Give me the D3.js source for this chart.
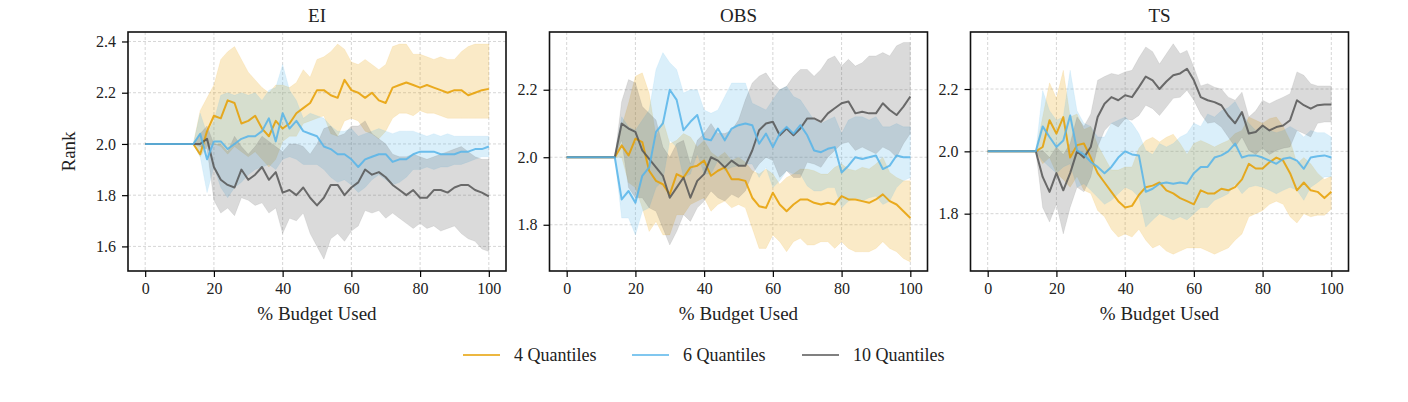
<!doctype html>
<html>

<head>
    <meta charset="utf-8">
    <title>Rank vs % budget used</title>
    <style>
        body {
            margin: 0;
            background: #ffffff;
            font-family: 'Liberation Serif', 'Times New Roman', serif;
        }

        .tick text {
            font-family: 'Liberation Serif', 'Times New Roman', serif;
            font-size: 16px;
            fill: #222222;
        }

        .tick line {
            stroke: #000000;
            stroke-width: 1.2;
        }

        text {
            fill: #222222;
        }
    </style>
</head>

<body>
    <div id="chart"></div>

    <script src="https://cdnjs.cloudflare.com/ajax/libs/d3/7.8.5/d3.min.js"></script>

    <script>
        // x positions (% budget used) shared by every series
        var budget = [0, 14, 16, 18, 20, 22, 24, 26, 28, 30, 32, 34, 36, 38, 40, 42, 44, 46, 48, 50, 52, 54, 56, 58, 60, 62, 64, 66, 68, 70, 72, 74, 76, 78, 80, 82, 84, 86, 88, 90, 92, 94, 96, 98, 100];

        var seriesNames = ["4 Quantiles", "6 Quantiles", "10 Quantiles"];
        var panelTitles = ["EI", "OBS", "TS"];
        var xTicks = [0, 20, 40, 60, 80, 100];

        // EI
        var eiQ4 = [2.0, 2.0, 1.96, 2.05, 2.11, 2.10, 2.17, 2.16, 2.08, 2.09, 2.11, 2.06, 2.03, 2.09, 2.06, 2.08, 2.12, 2.14, 2.16, 2.21, 2.21, 2.19, 2.18, 2.25, 2.21, 2.20, 2.18, 2.20, 2.17, 2.16, 2.22, 2.23, 2.24, 2.23, 2.22, 2.23, 2.22, 2.21, 2.20, 2.21, 2.21, 2.19, 2.20, 2.21, 2.215];
        var eiQ4Hi = [2.0, 2.0, 2.13, 2.18, 2.23, 2.33, 2.36, 2.38, 2.33, 2.28, 2.25, 2.22, 2.20, 2.23, 2.23, 2.22, 2.24, 2.29, 2.26, 2.33, 2.34, 2.36, 2.39, 2.37, 2.32, 2.31, 2.33, 2.31, 2.29, 2.31, 2.38, 2.39, 2.39, 2.35, 2.35, 2.34, 2.33, 2.34, 2.33, 2.33, 2.36, 2.38, 2.39, 2.39, 2.39];
        var eiQ4Lo = [2.0, 2.0, 1.95, 1.99, 2.0, 1.99, 1.96, 1.99, 1.97, 1.95, 1.97, 1.94, 1.91, 1.94, 2.01, 2.03, 2.03, 2.08, 2.09, 2.10, 2.11, 2.04, 2.03, 2.09, 2.10, 2.09, 2.05, 2.04, 2.02, 2.05, 2.10, 2.12, 2.12, 2.11, 2.13, 2.12, 2.12, 2.11, 2.10, 2.10, 2.10, 2.10, 2.10, 2.10, 2.10];
        var eiQ6 = [2.0, 2.0, 2.04, 1.94, 2.01, 2.01, 1.98, 2.00, 2.02, 2.03, 2.03, 2.05, 2.10, 2.01, 2.12, 2.06, 2.09, 2.05, 2.04, 2.03, 1.99, 1.98, 1.96, 1.96, 1.94, 1.91, 1.94, 1.95, 1.96, 1.96, 1.93, 1.94, 1.94, 1.96, 1.97, 1.97, 1.97, 1.96, 1.96, 1.96, 1.97, 1.97, 1.98, 1.98, 1.99];
        var eiQ6Hi = [2.0, 2.0, 2.12, 2.04, 2.09, 2.19, 2.20, 2.19, 2.20, 2.19, 2.20, 2.17, 2.21, 2.22, 2.31, 2.21, 2.17, 2.10, 2.12, 2.11, 2.10, 2.07, 2.05, 2.05, 2.06, 2.03, 2.04, 2.05, 2.06, 2.05, 2.04, 2.05, 2.05, 2.05, 2.04, 2.03, 2.04, 2.03, 2.04, 2.03, 2.03, 2.03, 2.03, 2.03, 2.03];
        var eiQ6Lo = [2.0, 2.0, 1.95, 1.81, 1.91, 1.83, 1.79, 1.83, 1.85, 1.88, 1.90, 1.91, 1.92, 1.90, 1.94, 1.95, 1.94, 1.92, 1.92, 1.92, 1.90, 1.87, 1.85, 1.86, 1.84, 1.81, 1.83, 1.86, 1.88, 1.86, 1.84, 1.85, 1.87, 1.90, 1.90, 1.91, 1.90, 1.91, 1.91, 1.92, 1.92, 1.93, 1.94, 1.95, 1.95];
        var eiQ10 = [2.0, 2.0, 2.0, 2.02, 1.91, 1.86, 1.84, 1.83, 1.90, 1.86, 1.88, 1.91, 1.86, 1.89, 1.81, 1.82, 1.80, 1.83, 1.79, 1.76, 1.79, 1.84, 1.84, 1.80, 1.83, 1.85, 1.90, 1.88, 1.89, 1.87, 1.84, 1.82, 1.80, 1.82, 1.79, 1.79, 1.82, 1.82, 1.81, 1.83, 1.84, 1.84, 1.82, 1.81, 1.795];
        var eiQ10Hi = [2.0, 2.0, 2.04, 2.07, 2.0, 2.0, 1.97, 2.03, 1.99, 1.96, 1.99, 2.03, 2.01, 1.99, 1.97, 2.0, 2.0, 1.99, 1.96, 2.0, 2.06, 2.07, 2.03, 2.04, 2.07, 2.07, 2.09, 2.04, 2.02, 2.0, 1.96, 1.95, 1.95, 1.96, 1.95, 1.94, 1.95, 1.96, 1.97, 1.98, 1.99, 1.97, 1.95, 1.94, 1.94];
        var eiQ10Lo = [2.0, 2.0, 1.99, 1.98, 1.78, 1.73, 1.75, 1.72, 1.79, 1.78, 1.76, 1.77, 1.73, 1.75, 1.65, 1.71, 1.70, 1.73, 1.65, 1.60, 1.55, 1.63, 1.65, 1.62, 1.66, 1.68, 1.74, 1.73, 1.74, 1.71, 1.73, 1.71, 1.69, 1.67, 1.69, 1.67, 1.68, 1.66, 1.67, 1.68, 1.65, 1.63, 1.62, 1.59, 1.58];

        // OBS
        var obsQ4 = [2.0, 2.0, 2.035, 2.005, 2.055, 2.045, 1.96, 1.93, 1.92, 1.89, 1.95, 1.94, 1.97, 1.975, 1.99, 1.945, 1.96, 1.97, 1.935, 1.935, 1.93, 1.88, 1.855, 1.85, 1.895, 1.86, 1.84, 1.86, 1.875, 1.875, 1.865, 1.86, 1.865, 1.86, 1.885, 1.875, 1.875, 1.87, 1.865, 1.875, 1.89, 1.87, 1.86, 1.84, 1.82];
        var obsQ4Hi = [2.0, 2.0, 2.09, 2.16, 2.24, 2.25, 2.19, 2.06, 2.11, 2.04, 2.05, 2.07, 2.06, 2.03, 2.05, 2.015, 2.0, 2.015, 1.99, 2.0, 1.985, 1.96, 1.95, 1.965, 1.95, 1.92, 1.94, 1.95, 1.965, 1.965, 1.96, 1.95, 1.95, 1.97, 1.98, 1.965, 1.96, 1.97, 1.965, 1.98, 2.0, 1.955, 1.94, 1.93, 1.93];
        var obsQ4Lo = [2.0, 2.0, 2.0, 1.925, 1.91, 1.85, 1.78, 1.81, 1.77, 1.77, 1.83, 1.83, 1.86, 1.87, 1.88, 1.84, 1.86, 1.87, 1.85, 1.86, 1.85, 1.79, 1.73, 1.73, 1.77, 1.75, 1.72, 1.75, 1.76, 1.74, 1.74, 1.75, 1.75, 1.73, 1.75, 1.73, 1.72, 1.72, 1.72, 1.73, 1.75, 1.73, 1.72, 1.70, 1.69];
        var obsQ6 = [2.0, 2.0, 1.875, 1.90, 1.865, 1.945, 1.97, 2.075, 2.10, 2.20, 2.17, 2.08, 2.105, 2.125, 2.055, 2.05, 2.085, 2.05, 2.085, 2.095, 2.10, 2.095, 2.04, 2.07, 2.03, 2.07, 2.09, 2.07, 2.095, 2.065, 2.02, 2.015, 2.025, 2.03, 1.955, 1.975, 2.0, 1.995, 2.0, 2.005, 1.965, 1.975, 2.005, 2.0, 2.0];
        var obsQ6Hi = [2.0, 2.0, 2.12, 2.09, 2.08, 2.11, 2.14, 2.26, 2.31, 2.28, 2.26, 2.19, 2.20, 2.20, 2.14, 2.13, 2.14, 2.18, 2.22, 2.22, 2.22, 2.16, 2.15, 2.14, 2.17, 2.20, 2.21, 2.18, 2.17, 2.14, 2.11, 2.10, 2.11, 2.12, 2.07, 2.11, 2.12, 2.12, 2.11, 2.12, 2.09, 2.09, 2.10, 2.09, 2.09];
        var obsQ6Lo = [2.0, 2.0, 1.82, 1.82, 1.77, 1.84, 1.85, 1.91, 1.93, 2.05, 2.03, 1.94, 1.95, 2.01, 1.95, 1.95, 1.99, 1.96, 1.97, 1.975, 1.98, 1.98, 1.94, 1.97, 1.91, 1.93, 1.96, 1.95, 1.95, 1.915, 1.90, 1.90, 1.91, 1.91, 1.85, 1.87, 1.88, 1.87, 1.88, 1.885, 1.86, 1.87, 1.91, 1.93, 1.94];
        var obsQ10 = [2.0, 2.0, 2.10, 2.085, 2.075, 2.02, 1.995, 1.97, 1.945, 1.88, 1.91, 1.94, 1.88, 1.93, 1.95, 2.0, 1.99, 1.97, 1.99, 1.975, 1.975, 2.02, 2.08, 2.10, 2.105, 2.065, 2.085, 2.065, 2.085, 2.115, 2.115, 2.105, 2.13, 2.145, 2.16, 2.165, 2.13, 2.135, 2.13, 2.13, 2.16, 2.14, 2.125, 2.15, 2.18];
        var obsQ10Hi = [2.0, 2.0, 2.165, 2.23, 2.22, 2.15, 2.13, 2.11, 2.03, 2.0, 2.04, 2.05, 1.98, 2.05, 2.07, 2.10, 2.07, 2.07, 2.08, 2.11, 2.17, 2.22, 2.24, 2.25, 2.22, 2.20, 2.21, 2.24, 2.26, 2.26, 2.24, 2.26, 2.29, 2.30, 2.27, 2.29, 2.27, 2.28, 2.30, 2.30, 2.31, 2.30, 2.33, 2.34, 2.34];
        var obsQ10Lo = [2.0, 2.0, 2.05, 1.91, 1.88, 1.88, 1.85, 1.84, 1.79, 1.74, 1.78, 1.83, 1.81, 1.85, 1.87, 1.90, 1.88, 1.87, 1.89, 1.88, 1.90, 1.95, 1.98, 2.0, 1.99, 1.94, 1.96, 1.94, 1.94, 1.985, 1.98, 1.97, 2.0, 2.02, 2.04, 2.045, 2.02, 2.03, 2.02, 2.01, 2.03, 2.02, 2.0, 2.04, 2.07];

        // TS
        var tsQ4 = [2.0, 2.0, 2.014, 2.10, 2.057, 2.11, 1.98, 2.02, 2.025, 1.98, 1.93, 1.90, 1.87, 1.84, 1.82, 1.825, 1.86, 1.885, 1.89, 1.90, 1.875, 1.865, 1.85, 1.84, 1.83, 1.875, 1.865, 1.865, 1.88, 1.875, 1.885, 1.91, 1.96, 1.945, 1.945, 1.965, 1.98, 1.97, 1.93, 1.875, 1.90, 1.875, 1.87, 1.85, 1.87];
        var tsQ4Hi = [2.0, 2.0, 2.11, 2.22, 2.17, 2.26, 2.11, 2.12, 2.07, 2.08, 2.02, 1.98, 1.94, 1.94, 1.95, 1.95, 2.01, 2.035, 2.045, 2.03, 2.045, 2.055, 2.025, 1.99, 2.025, 2.035, 2.025, 2.014, 2.025, 2.035, 2.057, 2.067, 2.11, 2.10, 2.09, 2.105, 2.11, 2.08, 2.035, 1.96, 1.98, 1.96, 1.93, 1.91, 1.92];
        var tsQ4Lo = [2.0, 2.0, 1.96, 1.98, 1.93, 1.91, 1.885, 1.92, 1.875, 1.865, 1.81, 1.79, 1.75, 1.725, 1.735, 1.725, 1.75, 1.715, 1.69, 1.70, 1.68, 1.67, 1.68, 1.69, 1.69, 1.69, 1.68, 1.67, 1.68, 1.69, 1.715, 1.735, 1.79, 1.80, 1.81, 1.83, 1.84, 1.83, 1.79, 1.77, 1.80, 1.79, 1.795, 1.795, 1.815];
        var tsQ6 = [2.0, 2.0, 2.08, 2.046, 2.014, 2.035, 2.115, 2.003, 1.99, 1.966, 1.95, 1.93, 1.95, 1.98, 2.0, 1.99, 1.987, 1.87, 1.88, 1.896, 1.90, 1.896, 1.90, 1.896, 1.93, 1.95, 1.95, 1.98, 1.987, 2.0, 2.025, 1.98, 1.987, 1.987, 1.98, 1.97, 1.96, 1.976, 1.98, 1.97, 1.944, 1.98, 1.984, 1.987, 1.98];
        var tsQ6Hi = [2.0, 2.0, 2.195, 2.13, 2.10, 2.11, 2.26, 2.13, 2.09, 2.08, 2.046, 2.046, 2.09, 2.10, 2.11, 2.09, 2.057, 2.003, 1.99, 2.025, 2.014, 2.025, 2.046, 2.057, 2.09, 2.08, 2.12, 2.11, 2.13, 2.14, 2.16, 2.12, 2.09, 2.067, 2.08, 2.067, 2.06, 2.067, 2.08, 2.067, 2.046, 2.067, 2.06, 2.06, 2.046];
        var tsQ6Lo = [2.0, 2.0, 1.97, 1.95, 1.93, 1.95, 1.96, 1.885, 1.896, 1.875, 1.853, 1.83, 1.843, 1.864, 1.885, 1.875, 1.853, 1.757, 1.78, 1.80, 1.79, 1.78, 1.79, 1.78, 1.80, 1.82, 1.82, 1.843, 1.853, 1.864, 1.896, 1.864, 1.885, 1.89, 1.885, 1.875, 1.864, 1.875, 1.885, 1.875, 1.843, 1.885, 1.90, 1.918, 1.918];
        var tsQ10 = [2.0, 2.0, 1.918, 1.87, 1.93, 1.875, 1.93, 2.0, 1.98, 2.014, 2.11, 2.153, 2.174, 2.164, 2.18, 2.174, 2.206, 2.24, 2.228, 2.20, 2.224, 2.244, 2.25, 2.265, 2.228, 2.174, 2.164, 2.158, 2.148, 2.115, 2.09, 2.126, 2.057, 2.062, 2.083, 2.067, 2.078, 2.083, 2.10, 2.164, 2.148, 2.137, 2.148, 2.15, 2.15];
        var tsQ10Hi = [2.0, 2.0, 2.003, 1.98, 2.014, 1.99, 2.025, 2.11, 2.08, 2.12, 2.228, 2.24, 2.25, 2.245, 2.255, 2.26, 2.30, 2.335, 2.32, 2.28, 2.313, 2.345, 2.313, 2.324, 2.27, 2.21, 2.217, 2.206, 2.20, 2.174, 2.164, 2.19, 2.11, 2.13, 2.164, 2.153, 2.164, 2.174, 2.185, 2.255, 2.244, 2.217, 2.21, 2.21, 2.21];
        var tsQ10Lo = [2.0, 2.0, 1.82, 1.773, 1.83, 1.735, 1.82, 1.885, 1.87, 1.918, 2.014, 2.067, 2.09, 2.078, 2.105, 2.10, 2.115, 2.148, 2.137, 2.115, 2.142, 2.17, 2.174, 2.196, 2.164, 2.12, 2.09, 2.094, 2.078, 2.046, 2.014, 2.046, 2.003, 1.99, 2.01, 1.99, 2.003, 2.01, 2.014, 2.067, 2.057, 2.046, 2.09, 2.094, 2.094];

        var colors = ["#E69F00", "#56B4E9", "#555555"];

        var width = 1408;
        var height = 402;
        var panelW = 378;
        var panelH = 239;
        var panelTop = 32;

        var panels = [
            { title: panelTitles[0], left: 128, yDomain: [1.504, 2.437], yTicks: [1.6, 1.8, 2.0, 2.2, 2.4],
              series: [[eiQ4, eiQ4Lo, eiQ4Hi], [eiQ6, eiQ6Lo, eiQ6Hi], [eiQ10, eiQ10Lo, eiQ10Hi]] },
            { title: panelTitles[1], left: 549.5, yDomain: [1.663, 2.371], yTicks: [1.8, 2.0, 2.2],
              series: [[obsQ4, obsQ4Lo, obsQ4Hi], [obsQ6, obsQ6Lo, obsQ6Hi], [obsQ10, obsQ10Lo, obsQ10Hi]] },
            { title: panelTitles[2], left: 970.5, yDomain: [1.616, 2.383], yTicks: [1.8, 2.0, 2.2],
              series: [[tsQ4, tsQ4Lo, tsQ4Hi], [tsQ6, tsQ6Lo, tsQ6Hi], [tsQ10, tsQ10Lo, tsQ10Hi]] }
        ];

        var svg = d3.select("#chart").append("svg").attr("width", width).attr("height", height);

        var x = d3.scaleLinear([-5, 105], [0, panelW]);

        panels.forEach(function (p, pi) {
            var y = d3.scaleLinear(p.yDomain, [panelH, 0]);
            var g = svg.append("g").attr("transform", `translate(${p.left},${panelTop})`);

            // dashed grid
            g.append("g").selectAll("line").data(xTicks).join("line")
                .attr("x1", d => x(d)).attr("x2", d => x(d))
                .attr("y1", 0).attr("y2", panelH)
                .attr("stroke", "#cccccc").attr("stroke-width", 0.8).attr("stroke-dasharray", "3,2");
            g.append("g").selectAll("line").data(p.yTicks).join("line")
                .attr("x1", 0).attr("x2", panelW)
                .attr("y1", d => y(d)).attr("y2", d => y(d))
                .attr("stroke", "#cccccc").attr("stroke-width", 0.8).attr("stroke-dasharray", "3,2");

            // confidence bands
            p.series.forEach(function (s, si) {
                var area = d3.area()
                    .x((d, i) => x(budget[i]))
                    .y0((d, i) => y(s[1][i]))
                    .y1((d, i) => y(s[2][i]));
                g.append("path").datum(s[0])
                    .attr("d", area)
                    .attr("fill", colors[si])
                    .attr("fill-opacity", 0.22)
                    .attr("stroke", colors[si])
                    .attr("stroke-opacity", 0.12)
                    .attr("stroke-width", 0.8);
            });

            // mean lines (blue drawn last)
            [0, 2, 1].forEach(function (si) {
                var s = p.series[si];
                var line = d3.line().x((d, i) => x(budget[i])).y(d => y(d));
                g.append("path").datum(s[0])
                    .attr("d", line)
                    .attr("fill", "none")
                    .attr("stroke", colors[si])
                    .attr("stroke-opacity", 0.85)
                    .attr("stroke-width", 2)
                    .attr("stroke-linejoin", "round");
            });

            // frame
            g.append("rect").attr("x", 0).attr("y", 0).attr("width", panelW).attr("height", panelH)
                .attr("fill", "none").attr("stroke", "#111111").attr("stroke-width", 1.6);

            var xAxis = d3.axisBottom(x).tickValues(xTicks).tickFormat(d3.format("d")).tickSize(6).tickPadding(6);
            var yAxis = d3.axisLeft(y).tickValues(p.yTicks).tickFormat(d3.format(".1f")).tickSize(6).tickPadding(6);

            g.append("g").attr("class", "x-axis").attr("transform", `translate(0,${panelH})`).call(xAxis)
                .call(a => a.select(".domain").remove());
            g.append("g").attr("class", "y-axis").call(yAxis)
                .call(a => a.select(".domain").remove());

            g.append("text").attr("x", panelW / 2).attr("y", -10)
                .attr("text-anchor", "middle").attr("font-size", 19).text(p.title);

            g.append("text").attr("x", panelW / 2).attr("y", panelH + 49)
                .attr("text-anchor", "middle").attr("font-size", 19).text("% Budget Used");

            if (pi === 0) {
                g.append("text")
                    .attr("transform", `translate(${-53},${panelH / 2}) rotate(-90)`)
                    .attr("text-anchor", "middle").attr("font-size", 19).text("Rank");
            }
        });

        // legend
        var legendX = [463, 632, 802];
        var legend = svg.append("g").attr("class", "legend");
        legend.selectAll("line").data(seriesNames).join("line")
            .attr("x1", (d, i) => legendX[i]).attr("x2", (d, i) => legendX[i] + 37)
            .attr("y1", 355).attr("y2", 355)
            .attr("stroke", (d, i) => colors[i])
            .attr("stroke-opacity", 0.75)
            .attr("stroke-width", 2);
        legend.selectAll("text").data(seriesNames).join("text")
            .attr("x", (d, i) => legendX[i] + 51).attr("y", 361)
            .attr("font-size", 18)
            .text(d => d);
    </script>
</body>

</html>
